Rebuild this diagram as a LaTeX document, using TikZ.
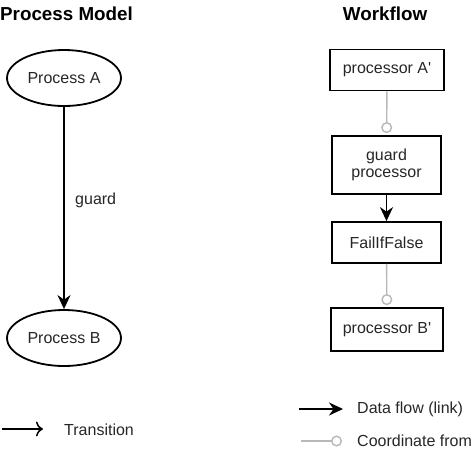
\documentclass[tikz,border=0pt]{standalone}
\usepackage{fontspec}
\setmainfont{Liberation Sans}
\usetikzlibrary{shapes.geometric,arrows.meta}
\begin{document}
\begin{tikzpicture}[x=1pt,y=-1pt,
  txt/.style={font=\fontsize{16}{19}\selectfont, text=black!85},
  ttl/.style={font=\fontsize{18.8}{22}\selectfont\bfseries},
  proc/.style={ellipse, draw, line width=1.8pt, minimum width=114pt, minimum height=56pt, inner sep=0pt, txt},
  wbox/.style={rectangle, draw, line width=1.8pt, minimum width=110pt, inner sep=0pt, align=center, txt},
  flow/.style={line width=1.8pt, -{Stealth[length=14pt,width=13pt]}},
  coord/.style={line width=1.4pt, draw=black!28, -{Circle[open,length=11pt,width=11pt,fill=white]}},
]
\useasboundingbox (0,0) rectangle (474,451);
% titles
\node[ttl, anchor=west, inner sep=0pt] (t1) at (0,14) {Process Model};
\node[ttl, inner sep=0pt] (t2) at (385,14) {Workflow};
% process model
\node[proc] (pa) at (64,78) {Process A};
\node[proc] (pb) at (64,338) {Process B};
\draw[flow] (pa) -- (pb) node[pos=0.46, right=7pt, txt] (g) {guard};
% workflow
\node[wbox, minimum width=114pt, minimum height=41pt] (wa) at (387,70) {processor A\textquotesingle};
\node[wbox, minimum width=109pt, minimum height=58pt] (wg) at (386.5,165) {guard\\[-2pt]processor};
\node[wbox, minimum width=109pt, minimum height=41pt] (wf) at (386.5,242.5) {FailIfFalse};
\node[wbox, minimum width=112pt, minimum height=43pt] (wb) at (387,329.5) {processor B\textquotesingle};
\draw[coord, shorten >=2pt] (wa) -- (wg);
\draw[flow] (wg) -- (wf);
\draw[coord, shorten >=2pt] (wf) -- (wb);
% legend
\coordinate (l1a) at (2,429);
\coordinate (l1b) at (43,429);
\draw[line width=1.5pt, -{To[length=7pt,width=15pt]}] (l1a) -- (l1b);
\node[txt, anchor=west, inner sep=0pt] (l1t) at (64,430) {Transition};
\coordinate (l2a) at (299,409);
\coordinate (l2b) at (343,409);
\draw[flow] (l2a) -- (l2b);
\node[txt, anchor=west, inner sep=0pt] (l2t) at (357,409) {Data flow (link)};
\coordinate (l3a) at (301,441);
\coordinate (l3b) at (342,441);
\draw[coord] (l3a) -- (l3b);
\node[txt, anchor=west, inner sep=0pt] (l3t) at (357,441) {Coordinate from};
\end{tikzpicture}
\end{document}
